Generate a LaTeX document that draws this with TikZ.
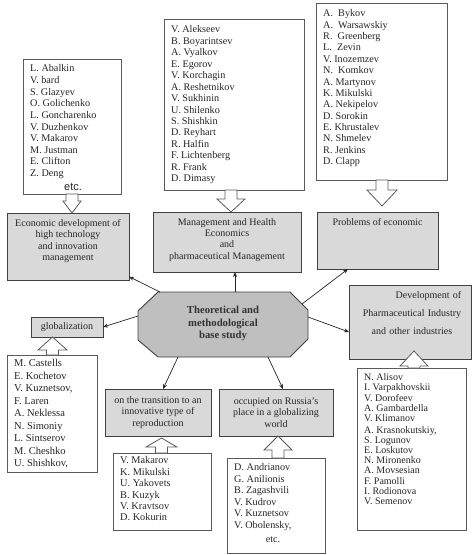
\documentclass[tikz,border=0pt]{standalone}
\usepackage{fontspec}
\setmainfont{Liberation Serif}
\newfontfamily\arialf{Liberation Sans}
\usetikzlibrary{calc,shadows,arrows.meta}
\definecolor{boxgray}{HTML}{D9D9D9}
\definecolor{octgray}{HTML}{BFBFBF}
\definecolor{edgedark}{HTML}{404040}
\definecolor{edgelist}{HTML}{5A5A5A}
\definecolor{inkc}{HTML}{262626}
\tikzset{
 graybox/.style={draw=edgedark, fill=boxgray, line width=0.9pt, inner sep=0pt, outer sep=0pt, anchor=north west,
   drop shadow={shadow xshift=1.2pt, shadow yshift=-1.2pt, opacity=0.35}},
 listbox/.style={draw=edgelist, fill=white, line width=0.8pt, inner sep=0pt, outer sep=0pt, anchor=north west},
 listtext/.style={inner sep=0pt, anchor=north west, align=left, text=inkc},
 boxtext/.style={inner sep=0pt, anchor=north, align=center, text=inkc, font=\fontsize{10}{11.4}\selectfont},
 octshape/.style={draw=edgedark, fill=octgray, line width=0.9pt},
 conn/.style={draw=black!85, line width=0.7pt, -{Stealth[length=5pt,width=4pt]}},
 hollow/.style={draw=edgelist, fill=white, line width=0.8pt, line join=miter},
}
% #1 tail anchor, #2 tip anchor, #3 x (px), #4 head length (canvas, signed), #5 tip shift (canvas, signed), #6 head half width
\newcommand\blockarrow[6]{%
  \draw[hollow] let \p1=(#1), \p2=(#2) in
    ({#3pt-6pt},{\y1}) -- ({#3pt-6pt},{\y2+(#5pt)+(#4pt)}) -- ({#3pt-#6pt},{\y2+(#5pt)+(#4pt)})
    -- ({#3pt},{\y2+(#5pt)}) -- ({#3pt+#6pt},{\y2+(#5pt)+(#4pt)}) -- ({#3pt+6pt},{\y2+(#5pt)+(#4pt)})
    -- ({#3pt+6pt},{\y1}) -- cycle;}
\begin{document}
\begin{tikzpicture}[x=1pt,y=-1pt]
\useasboundingbox (0,0) rectangle (474,555);

% list boxes
\node[listbox, minimum width=98pt, minimum height=135pt] (L1) at (23,59) {};
\node[listbox, minimum width=140pt, minimum height=171pt] (L2) at (164,19) {};
\node[listbox, minimum width=131pt, minimum height=177pt] (L3) at (316,3) {};
\node[listbox, minimum width=90pt, minimum height=117pt] (LL) at (7,355) {};
\node[listbox, minimum width=98pt, minimum height=77pt] (LA) at (113,453) {};
\node[listbox, minimum width=98pt, minimum height=95pt] (LB) at (227,458) {};
\node[listbox, minimum width=109pt, minimum height=162pt] (LR) at (357,368) {};

% gray boxes
\node[graybox, minimum width=122pt, minimum height=67pt] (box1) at (7,213) {};
\node[graybox, minimum width=148pt, minimum height=60pt] (box2) at (153,212) {};
\node[graybox, minimum width=121pt, minimum height=57pt] (box3) at (317,212) {};
\node[graybox, minimum width=72pt, minimum height=20pt, text=inkc, font=\fontsize{10}{11.4}\selectfont] (glob) at (31,317) {globalization};
\node[graybox, minimum width=106pt, minimum height=47pt, text=inkc, align=center, font=\fontsize{10}{11.7}\selectfont] (boxA) at (105,389) {on the transition to an\\innovative type of\\reproduction};
\node[graybox, minimum width=114pt, minimum height=47pt, text=inkc, align=center, font=\fontsize{10}{11.7}\selectfont] (boxB) at (219,389) {occupied on Russia's\\place in a globalizing\\world};
\node[graybox, minimum width=122pt, minimum height=74pt] (rbox) at (349,285) {};

% octagon
\coordinate (o1) at (158,292); \coordinate (o2) at (290,292);
\coordinate (o3) at (308,310); \coordinate (o4) at (308,339);
\coordinate (o5) at (290,357); \coordinate (o6) at (158,357);
\coordinate (o7) at (138,340); \coordinate (o8) at (138,311);
\draw[octshape] (o1) -- (o2) -- (o3) -- (o4) -- (o5) -- (o6) -- (o7) -- (o8) -- cycle;
\node[inner sep=0pt, align=center, text=black!80, font=\bfseries\fontsize{10.7}{12.4}\selectfont] (core) at (223,323.5) {Theoretical and\\methodological\\base study};

% connectors
\coordinate (s1) at (160,292);
\coordinate (s2) at (235,292);
\coordinate (s3) at (302,304);
\coordinate (s4) at (308,317);
\coordinate (s5) at (138,316);
\coordinate (s6) at (178,357);
\coordinate (s7) at (268,357);
\draw[conn] (s1) -- (box1);
\draw[conn] (s2) -- (box2.south -| s2);
\draw[conn] (s3) -- ($(box3.south west)+(31,0)$);
\draw[conn] (s4) -- ($(rbox.west)+(0,10)$);
\draw[conn] (s5) -- (glob.east);
\draw[conn] (s6) -- ($(boxA.north)+(5,0)$);
\draw[conn] (s7) -- ($(boxB.north)+(7,0)$);

% hollow block arrows
\blockarrow{L1.south}{box1.north}{72}{12}{0}{9}
\blockarrow{L2.south}{box2.north}{231}{13}{0}{14}
\blockarrow{L3.south}{box3.north}{382}{16}{6}{15}
\blockarrow{LL.north}{glob.south}{52.5}{-13}{0}{14.5}
\blockarrow{LA.north}{boxA.south}{161.5}{-9}{-2}{15.5}
\blockarrow{LB.north}{boxB.south}{278}{-14}{0}{14}
\blockarrow{LR.north}{rbox.south}{414}{-15}{8}{14}

% box texts
\node[boxtext] (t1) at (68,219) {Economic development of\\high technology\\and innovation\\management};
\node[boxtext] (t2) at (227,218) {Management and Health\\Economics\\and\\pharmaceutical Management};
\node[boxtext] (t3) at (377.5,218.5) {Problems of economic};
\node[inner sep=0pt, anchor=north west, text width=100pt, align=right, text=inkc, font=\fontsize{10}{18}\selectfont] (tR) at (361,291) {Development of\\Pharmaceutical Industry\\and other industries\hspace*{9pt}};

% list texts
\node[listtext, font=\fontsize{10.2}{11.65}\selectfont] (L1t) at (30,64.5) {L. Abalkin\\V. bard\\S. Glazyev\\O. Golichenko\\L. Goncharenko\\V. Duzhenkov\\V. Makarov\\M. Justman\\E. Clifton\\Z. Deng};
\node[inner sep=0pt, text=inkc, font=\arialf\fontsize{11}{12}\selectfont] (L1etc) at (73,187) {etc.};
\node[listtext, font=\fontsize{10.2}{11.46}\selectfont] (L2t) at (171,25.5) {V. Alekseev\\B. Boyarintsev\\A. Vyalkov\\E. Egorov\\V. Korchagin\\A. Reshetnikov\\V. Sukhinin\\U. Shilenko\\S. Shishkin\\D. Reyhart\\R. Halfin\\F. Lichtenberg\\R. Frank\\D. Dimasy};
\node[listtext, font=\fontsize{10.2}{11.38}\selectfont] (L3t) at (323,9.5) {A.\ \ Bykov\\A.\ \ Warsawskiy\\R.\ \ Greenberg\\L.\ \ Zevin\\V. Inozemzev\\N.\ \ Komkov\\A. Martynov\\K. Mikulski\\A. Nekipelov\\D. Sorokin\\E. Khrustalev\\N. Shmelev\\R. Jenkins\\D. Clapp};
\node[listtext, font=\fontsize{10.5}{12.5}\selectfont] (LLt) at (14,359.5) {M. Castells\\E. Kochetov\\V. Kuznetsov,\\F. Laren\\A. Neklessa\\N. Simoniy\\L. Sintserov\\M. Cheshko\\U. Shishkov,};
\node[listtext, font=\fontsize{10.3}{11.4}\selectfont] (LAt) at (120,456.5) {V. Makarov\\K. Mikulski\\U. Yakovets\\B. Kuzyk\\V. Kravtsov\\D. Kokurin};
\node[listtext, font=\fontsize{10.2}{11.5}\selectfont] (LBt) at (234,463.5) {D. Andrianov\\G. Anilionis\\B. Zagashvili\\V. Kudrov\\V. Kuznetsov\\V. Obolensky,};
\node[inner sep=0pt, text=inkc, font=\fontsize{10.2}{11.5}\selectfont] (LBetc) at (273,540) {etc.};
\node[listtext, font=\fontsize{10}{10.2}\selectfont] (LRt) at (364,373.5) {N. Alisov\\I. Varpakhovskii\\V. Dorofeev\\A. Gambardella\\V. Klimanov\\[1.5pt]A. Krasnokutskiy,\\S. Logunov\\E. Loskutov\\N. Mironenko\\A. Movsesian\\F. Pamolli\\I. Rodionova\\V. Semenov};
\end{tikzpicture}
\end{document}
